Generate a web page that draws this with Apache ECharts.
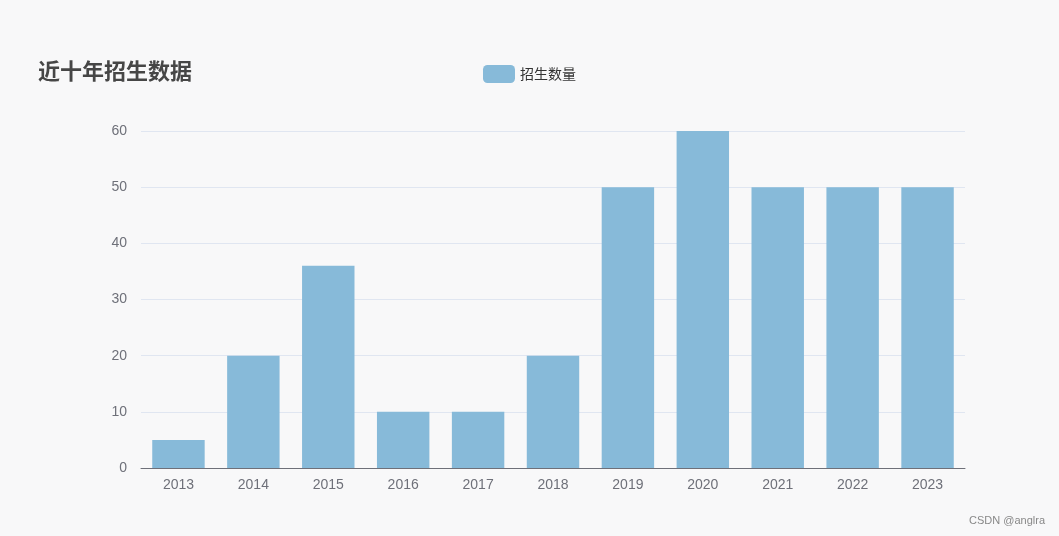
<!DOCTYPE html>
<html>
<head>
<meta charset="utf-8">
<script src="https://cdn.jsdelivr.net/npm/echarts@6/dist/echarts.min.js"></script>
<style>
  html, body { margin: 0; padding: 0; background: #f8f8f9; }
  #main { width: 1059px; height: 536px; }
</style>
</head>
<body>
<div id="main"></div>
<script>
var years = ['2013', '2014', '2015', '2016', '2017', '2018', '2019', '2020', '2021', '2022', '2023'];
var counts = [5, 20, 36, 10, 10, 20, 50, 60, 50, 50, 50];

var chart = echarts.init(document.getElementById('main'));
chart.setOption({
  backgroundColor: '#f8f8f9',
  title: {
    text: '近十年招生数据',
    left: 33, top: 55,
    textStyle: { fontSize: 22, fontWeight: 'bold', color: '#464646', fontFamily: 'Noto Sans CJK SC' }
  },
  legend: {
    top: 60, left: 'center',
    itemWidth: 32, itemHeight: 18,
    textStyle: { fontSize: 14, color: '#333', fontFamily: 'Noto Sans CJK SC' },
    data: ['招生数量']
  },
  grid: { left: 141, right: 94, top: 131, bottom: 68 },
  xAxis: {
    type: 'category',
    data: years,
    axisLine: { lineStyle: { color: '#6e7079' } },
    axisTick: { lineStyle: { color: '#6e7079' } },
    axisLabel: { fontSize: 14, color: '#6e7079', margin: 10 }
  },
  yAxis: {
    type: 'value',
    min: 0, max: 60, interval: 10,
    axisLabel: { fontSize: 14, color: '#6e7079', margin: 14 },
    splitLine: { lineStyle: { color: '#e0e6f1' } }
  },
  series: [{
    name: '招生数量',
    type: 'bar',
    data: counts,
    barWidth: '70%',
    itemStyle: { color: '#87bad9' }
  }],
  graphic: [{
    type: 'text', right: 14, bottom: 10,
    style: { text: 'CSDN @anglra', fontSize: 11, fill: '#888' }
  }]
});
</script>
</body>
</html>
